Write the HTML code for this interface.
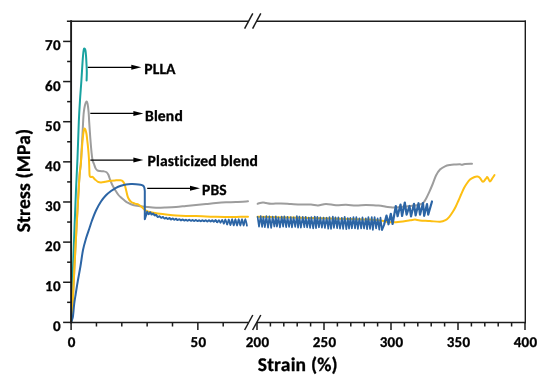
<!DOCTYPE html>
<html><head><meta charset="utf-8"><title>Stress-strain curves</title>
<style>html,body{margin:0;padding:0;background:#fff;width:550px;height:382px;overflow:hidden}svg{display:block}</style>
</head><body>
<svg width="550" height="382" viewBox="0 0 550 382">
<rect width="550" height="382" fill="#fff"/>
<g><path d="M71.2,322.3 C71.33,318.58 71.7,309.05 72,300 C72.3,290.95 72.58,280 73,268 C73.42,256 74,241 74.5,228 C75,215 75.5,201.67 76,190 C76.5,178.33 77.03,169.33 77.5,158 C77.97,146.67 78.38,131.67 78.8,122 C79.22,112.33 79.58,106.67 80,100 C80.42,93.33 80.92,87.67 81.3,82 C81.68,76.33 82.02,70.33 82.3,66 C82.58,61.67 82.75,58.77 83,56 C83.25,53.23 83.53,50.63 83.8,49.4 C84.07,48.17 84.33,48.47 84.6,48.6 C84.87,48.73 85.17,49.05 85.4,50.2 C85.63,51.35 85.82,53.2 86,55.5 C86.18,57.8 86.37,61.25 86.5,64 C86.63,66.75 86.78,69.25 86.8,72 C86.82,74.75 86.63,79.08 86.6,80.5" fill="none" stroke="#18a2a0" stroke-width="2.0" stroke-linejoin="round" stroke-linecap="round"/><path d="M71.2,322.3 C71.33,320.25 71.7,314.22 72,310 C72.3,305.78 72.58,304.33 73,297 C73.42,289.67 73.92,277.5 74.5,266 C75.08,254.5 75.85,240 76.5,228 C77.15,216 77.88,202.83 78.4,194 C78.92,185.17 79.2,180 79.6,175 C80,170 80.47,168.17 80.8,164 C81.13,159.83 81.35,154.33 81.6,150 C81.85,145.67 82.08,142 82.3,138 C82.52,134 82.67,130.17 82.9,126 C83.13,121.83 83.37,116.42 83.7,113 C84.03,109.58 84.47,107.42 84.9,105.5 C85.33,103.58 85.85,101.75 86.3,101.5 C86.75,101.25 87.22,102.25 87.6,104 C87.98,105.75 88.33,109 88.6,112 C88.87,115 88.92,117.67 89.2,122 C89.48,126.33 89.92,133 90.3,138 C90.68,143 91.13,148.33 91.5,152 C91.87,155.67 92.08,158 92.5,160 C92.92,162 93.48,162.6 94,164 C94.52,165.4 95.05,167.35 95.6,168.4 C96.15,169.45 96.57,169.87 97.3,170.3 C98.03,170.73 98.97,170.83 100,171 C101.03,171.17 102.42,171.1 103.5,171.3 C104.58,171.5 105.68,171.62 106.5,172.2 C107.32,172.78 107.82,173.58 108.4,174.8 C108.98,176.02 109.35,177.8 110,179.5 C110.65,181.2 111.38,183.17 112.3,185 C113.22,186.83 114.47,188.83 115.5,190.5 C116.53,192.17 117.58,193.83 118.5,195 C119.42,196.17 120.08,196.67 121,197.5 C121.92,198.33 123,199.2 124,200 C125,200.8 125.5,201.47 127,202.3 C128.5,203.13 130.67,204.35 133,205 C135.33,205.65 138.67,205.87 141,206.2 C143.33,206.53 144.5,206.75 147,207 C149.5,207.25 152.83,207.62 156,207.7 C159.17,207.78 162.67,207.62 166,207.5 C169.33,207.38 172.67,207.25 176,207 C179.33,206.75 182.67,206.33 186,206 C189.33,205.67 192.67,205.33 196,205 C199.33,204.67 202.67,204.33 206,204 C209.33,203.67 212.67,203.28 216,203 C219.33,202.72 222.67,202.47 226,202.3 C229.33,202.13 232.33,202.17 236,202 C239.67,201.83 246,201.42 248,201.3" fill="none" stroke="#9d9d9d" stroke-width="2.0" stroke-linejoin="round" stroke-linecap="round"/><path d="M257.6,203.8 C257.83,203.7 258.1,203.42 259,203.2 C259.9,202.98 261.83,202.53 263,202.5 C264.17,202.47 264.67,202.78 266,203 C267.33,203.22 268.5,203.73 271,203.8 C273.5,203.87 277.67,203.37 281,203.4 C284.33,203.43 287.67,203.82 291,204 C294.33,204.18 297.67,204.42 301,204.5 C304.33,204.58 308.17,204.33 311,204.5 C313.83,204.67 315.5,205.6 318,205.5 C320.5,205.4 323,203.93 326,203.9 C329,203.87 332.67,205.15 336,205.3 C339.33,205.45 342.67,204.77 346,204.8 C349.33,204.83 352.67,205.47 356,205.5 C359.33,205.53 362.67,205 366,205 C369.33,205 373.5,205.38 376,205.5 C378.5,205.62 379.33,205.48 381,205.7 C382.67,205.92 384.33,206.53 386,206.8 C387.67,207.07 389.5,207.18 391,207.3 C392.5,207.42 392.67,207.62 395,207.5 C397.33,207.38 401.67,206.92 405,206.6 C408.33,206.28 412.5,205.95 415,205.6 C417.5,205.25 418.57,205.03 420,204.5 C421.43,203.97 422.53,203.48 423.6,202.4 C424.67,201.32 425.5,199.63 426.4,198 C427.3,196.37 427.98,194.85 429,192.6 C430.02,190.35 431.33,187.35 432.5,184.5 C433.67,181.65 434.75,178 436,175.5 C437.25,173 438.5,171.03 440,169.5 C441.5,167.97 443.33,167.05 445,166.3 C446.67,165.55 448.33,165.3 450,165 C451.67,164.7 453.33,164.63 455,164.5 C456.67,164.37 458.83,164.15 460,164.2 C461.17,164.25 461.17,164.83 462,164.8 C462.83,164.77 463.33,164.17 465,164 C466.67,163.83 470.83,163.83 472,163.8" fill="none" stroke="#9d9d9d" stroke-width="2.0" stroke-linejoin="round" stroke-linecap="round"/><path d="M71.2,322.3 C71.33,320.25 71.7,314.22 72,310 C72.3,305.78 72.58,304.33 73,297 C73.42,289.67 73.92,277.5 74.5,266 C75.08,254.5 75.85,240 76.5,228 C77.15,216 77.88,202.83 78.4,194 C78.92,185.17 79.2,180 79.6,175 C80,170 80.43,168.17 80.8,164 C81.17,159.83 81.47,154.33 81.8,150 C82.13,145.67 82.48,141.17 82.8,138 C83.12,134.83 83.42,132.55 83.7,131 C83.98,129.45 84.2,128.9 84.5,128.7 C84.8,128.5 85.17,128.92 85.5,129.8 C85.83,130.68 86.22,132.3 86.5,134 C86.78,135.7 86.93,137.67 87.2,140 C87.47,142.33 87.82,145 88.1,148 C88.38,151 88.7,154.67 88.9,158 C89.1,161.33 89.18,165.12 89.3,168 C89.42,170.88 89.38,173.8 89.6,175.3 C89.82,176.8 90.12,176.73 90.6,177 C91.08,177.27 91.77,176.5 92.5,176.9 C93.23,177.3 94.08,178.58 95,179.4 C95.92,180.22 97,181.3 98,181.8 C99,182.3 99.83,182.4 101,182.4 C102.17,182.4 103.67,182.05 105,181.8 C106.33,181.55 107.33,181.13 109,180.9 C110.67,180.67 113.08,180.5 115,180.4 C116.92,180.3 119.17,180.12 120.5,180.3 C121.83,180.48 122.28,180.72 123,181.5 C123.72,182.28 124.25,183.42 124.8,185 C125.35,186.58 125.77,188.92 126.3,191 C126.83,193.08 127.22,195.7 128,197.5 C128.78,199.3 129.83,200.78 131,201.8 C132.17,202.82 133.75,203.13 135,203.6 C136.25,204.07 137.42,204.07 138.5,204.6 C139.58,205.13 140.5,205.97 141.5,206.8 C142.5,207.63 143.5,208.83 144.5,209.6 C145.5,210.37 146.42,210.97 147.5,211.4 C148.58,211.83 149.75,211.93 151,212.2 C152.25,212.47 153.5,212.73 155,213 C156.5,213.27 158.17,213.55 160,213.8 C161.83,214.05 163.33,214.22 166,214.5 C168.67,214.78 172.67,215.25 176,215.5 C179.33,215.75 182.67,215.9 186,216 C189.33,216.1 192.67,216.02 196,216.1 C199.33,216.18 202.67,216.38 206,216.5 C209.33,216.62 212.67,216.73 216,216.8 C219.33,216.87 222.67,216.88 226,216.9 C229.33,216.92 232.33,216.92 236,216.9 C239.67,216.88 246,216.82 248,216.8" fill="none" stroke="#fdbf12" stroke-width="2.0" stroke-linejoin="round" stroke-linecap="round"/><path d="M257.6,216.8 C259.67,216.85 264.6,216.97 270,217.1 C275.4,217.23 283.33,217.45 290,217.6 C296.67,217.75 303.33,217.85 310,218 C316.67,218.15 323.33,218.33 330,218.5 C336.67,218.67 343.33,218.82 350,219 C356.67,219.18 364.67,219.3 370,219.6 C375.33,219.9 379,220.4 382,220.8 C385,221.2 386.17,221.75 388,222 C389.83,222.25 391,222.35 393,222.3 C395,222.25 397.17,222.03 400,221.7 C402.83,221.37 407.5,220.65 410,220.3 C412.5,219.95 413.33,219.58 415,219.6 C416.67,219.62 417.5,220.17 420,220.4 C422.5,220.63 426.67,220.77 430,221 C433.33,221.23 437.42,221.93 440,221.8 C442.58,221.67 443.95,221.03 445.5,220.2 C447.05,219.37 448.05,218.25 449.3,216.8 C450.55,215.35 451.92,213.22 453,211.5 C454.08,209.78 454.88,208.33 455.8,206.5 C456.72,204.67 457.58,202.58 458.5,200.5 C459.42,198.42 460.42,196 461.3,194 C462.18,192 462.97,190.12 463.8,188.5 C464.63,186.88 465.27,185.78 466.3,184.3 C467.33,182.82 468.72,180.78 470,179.6 C471.28,178.42 472.75,177.7 474,177.2 C475.25,176.7 476.5,176.47 477.5,176.6 C478.5,176.73 479.08,177.13 480,178 C480.92,178.87 482,181.72 483,181.8 C484,181.88 485.25,179.27 486,178.5 C486.75,177.73 486.83,176.72 487.5,177.2 C488.17,177.68 489.17,181.27 490,181.4 C490.83,181.53 491.75,179.07 492.5,178 C493.25,176.93 494.17,175.5 494.5,175" fill="none" stroke="#fdbf12" stroke-width="2.0" stroke-linejoin="round" stroke-linecap="round"/><path d="M71.2,322.3 C71.38,321.75 72,320.05 72.3,319 C72.6,317.95 72.68,318.5 73,316 C73.32,313.5 73.75,307.67 74.2,304 C74.65,300.33 75.1,297.83 75.7,294 C76.3,290.17 77,285.67 77.8,281 C78.6,276.33 79.63,271.17 80.5,266 C81.37,260.83 82.08,254.58 83,250 C83.92,245.42 84.92,242.17 86,238.5 C87.08,234.83 88.5,231 89.5,228 C90.5,225 90.92,223.42 92,220.5 C93.08,217.58 94.5,213.67 96,210.5 C97.5,207.33 99.33,204.03 101,201.5 C102.67,198.97 104.33,197.05 106,195.3 C107.67,193.55 109.33,192.25 111,191 C112.67,189.75 114.33,188.67 116,187.8 C117.67,186.93 119.33,186.35 121,185.8 C122.67,185.25 124.33,184.78 126,184.5 C127.67,184.22 129.33,184.15 131,184.1 C132.67,184.05 134.42,184.1 136,184.2 C137.58,184.3 139.33,184.47 140.5,184.7 C141.67,184.93 142.37,185.13 143,185.6 C143.63,186.07 144,186.6 144.3,187.5 C144.6,188.4 144.72,190.42 144.8,191  L144.8,191 L144.8,219.3 L147.2,211.8  L147.2,211.8 C147.43,212.22 148.1,214.22 148.6,214.3 C149.1,214.38 149.68,212.25 150.2,212.3 C150.72,212.35 151.2,214.42 151.7,214.6 C152.2,214.78 152.7,213.27 153.2,213.4 C153.7,213.53 154.2,215.15 154.7,215.4 C155.2,215.65 155.67,214.62 156.2,214.91 C156.72,215.19 157.3,216.89 157.85,217.1 C158.4,217.31 158.95,216.04 159.5,216.17 C160.05,216.3 160.6,217.74 161.15,217.86 C161.7,217.99 162.25,216.82 162.8,216.94 C163.35,217.06 163.9,218.46 164.45,218.58 C165,218.71 165.55,217.6 166.1,217.69 C166.65,217.78 167.2,219.04 167.75,219.1 C168.3,219.17 168.85,218.02 169.4,218.08 C169.95,218.13 170.5,219.38 171.05,219.44 C171.6,219.51 172.15,218.41 172.7,218.46 C173.25,218.52 173.8,219.72 174.35,219.78 C174.9,219.84 175.45,218.8 176,218.85 C176.55,218.9 177.1,220.02 177.65,220.07 C178.2,220.12 178.75,219.1 179.3,219.14 C179.85,219.18 180.4,220.26 180.95,220.31 C181.5,220.36 182.05,219.39 182.6,219.43 C183.15,219.47 183.7,220.5 184.25,220.55 C184.8,220.6 185.35,219.68 185.9,219.71 C186.45,219.74 187,220.7 187.55,220.73 C188.1,220.76 188.65,219.85 189.2,219.87 C189.75,219.89 190.3,220.83 190.85,220.85 C191.4,220.87 191.95,219.98 192.5,220 C193.05,220.03 193.6,220.97 194.15,220.99 C194.7,221.01 195.25,220.1 195.8,220.12 C196.35,220.14 196.9,221.09 197.45,221.1 C198,221.11 198.55,220.17 199.1,220.18 C199.65,220.19 200.2,221.17 200.75,221.18 C201.3,221.19 201.85,220.22 202.4,220.24 C202.95,220.25 203.5,221.25 204.05,221.26 C204.6,221.26 205.15,220.26 205.7,220.28 C206.25,220.3 206.8,221.39 207.35,221.39 C207.9,221.4 208.45,220.27 209,220.3 C209.55,220.33 210.1,221.56 210.65,221.57 C211.2,221.57 211.75,220.3 212.3,220.33 C212.85,220.36 213.4,221.75 213.95,221.74 C214.5,221.72 215.05,220.15 215.6,220.23 C216.15,220.31 216.98,221.88 217.25,222.21" fill="none" stroke="#2c65a5" stroke-width="2.0" stroke-linejoin="round" stroke-linecap="round"/><path d="M215.6,220.23 C215.88,220.56 216.7,222.23 217.25,222.21 C217.8,222.19 218.35,220 218.9,220.1 C219.45,220.2 220,222.87 220.55,222.81 C221.1,222.76 221.65,219.62 222.2,219.78 C222.75,219.95 223.3,223.83 223.85,223.79 C224.4,223.74 224.95,219.35 225.5,219.51 C226.05,219.67 226.6,224.76 227.15,224.74 C227.7,224.71 228.25,219.3 228.8,219.38 C229.35,219.47 229.9,225.3 230.45,225.24 C231,225.19 231.55,219 232.1,219.04 C232.65,219.08 233.2,225.46 233.75,225.47 C234.3,225.47 234.85,219.04 235.4,219.05 C235.95,219.06 236.5,225.52 237.05,225.52 C237.6,225.52 238.15,219.05 238.7,219.06 C239.25,219.07 239.8,225.57 240.35,225.57 C240.9,225.57 241.45,219.07 242,219.08 C242.55,219.08 243.1,225.62 243.65,225.62 C244.2,225.62 244.75,219.08 245.3,219.09 C245.85,219.1 246.68,224.57 246.95,225.67" fill="none" stroke="#2c65a5" stroke-width="1.75" stroke-linejoin="round" stroke-linecap="round"/><path d="M257.6,216.8 L259.01,226.65 L260.68,216.11 L262.12,227 L263.38,216.8 L264.87,227.11 L266.38,216.12 L268.06,227.75 L269.41,216.33 L271.16,227.95 L272.64,216.6 L274.34,226.51 L275.78,216.42 L276.92,226.64 L278.5,217.26 L279.94,227.38 L281.67,216.54 L283.12,226.56 L284.38,216.27 L286.19,227.15 L287.51,216.87 L289.08,226.95 L290.75,217.04 L291.97,227.4 L293.61,217.32 L295.21,226.95 L296.84,216.1 L298.06,227.71 L299.43,216.68 L300.87,227.6 L302.73,216.86 L304.29,227.13 L305.7,216.94 L307.14,227.45 L308.77,217.55 L310.09,227.87 L311.38,217.21 L313.17,228.49 L314.76,216.59 L316.04,228.07 L317.36,216.92 L318.93,227.28 L320.38,217.46 L321.91,227.58 L323.55,217.67 L324.89,227.99 L326.62,217.73 L328.26,228.75 L329.49,217.03 L331.03,228.88 L332.83,216.67 L333.94,227.95 L335.47,217.28 L337.14,228.11 L338.35,217.24 L340.03,228.71 L341.83,217.75 L343.11,228.9 L344.69,216.8 L346.3,229.26 L347.79,218.07 L349.05,228.75 L350.4,217.87 L351.88,228.28 L353.45,217.12 L355.02,228.29 L356.35,217.1 L357.9,228.82 L359.36,218.27 L361.16,228.5 L362.48,217.43 L364.03,228.49 L365.77,218.46 L367.08,229.1 L368.39,217.04 L370.02,228.79 L371.76,217.14 L372.86,229.92 L374.61,217.12 L376.12,228.47 L377.61,218.46 L379.28,229.57 L380.48,217.48 L381.93,229.73" fill="none" stroke="#2c65a5" stroke-width="1.7" stroke-linejoin="round" stroke-linecap="round"/><path d="M381.93,229.73 L384.2,224.3 L386.5,215.5 L388.5,224.3 L390.8,213.8 L392.6,224 L395.8,206 L397.6,216.2 L400.5,204.5 L402.1,216 L404.8,202.5 L406.6,214.6 L409.5,206 L411,216.4 L414,203.8 L415.6,215.4 L418.5,203.2 L420,214.6 L423,203 L424.2,215.8 L427,204 L428.2,214.6 L432,201.5" fill="none" stroke="#2c65a5" stroke-width="2.2" stroke-linejoin="round" stroke-linecap="round"/></g>
<g><line x1="71.1" y1="20.3" x2="71.1" y2="323.2" stroke="#1c1c1c" stroke-width="1.9"/><line x1="70.2" y1="322.5" x2="248.3" y2="322.5" stroke="#1c1c1c" stroke-width="1.5"/><line x1="256.8" y1="322.5" x2="525.9" y2="322.5" stroke="#1c1c1c" stroke-width="1.5"/><line x1="66.9" y1="21.2" x2="248.3" y2="21.2" stroke="#1c1c1c" stroke-width="1.6"/><line x1="256.8" y1="21.2" x2="525.9" y2="21.2" stroke="#1c1c1c" stroke-width="1.4"/><line x1="525.3" y1="20.6" x2="525.3" y2="323.2" stroke="#1c1c1c" stroke-width="1.4"/><line x1="244.6" y1="28.6" x2="252.8" y2="13.4" stroke="#1c1c1c" stroke-width="1.5"/><line x1="252.6" y1="28.6" x2="260.8" y2="13.4" stroke="#1c1c1c" stroke-width="1.5"/><line x1="244.6" y1="330" x2="252.8" y2="315" stroke="#1c1c1c" stroke-width="1.5"/><line x1="252.6" y1="330" x2="260.8" y2="315" stroke="#1c1c1c" stroke-width="1.5"/><line x1="63.1" y1="322.4" x2="71.1" y2="322.4" stroke="#1c1c1c" stroke-width="1.5"/><line x1="67.1" y1="302.33" x2="71.1" y2="302.33" stroke="#1c1c1c" stroke-width="1.5"/><line x1="63.1" y1="282.26" x2="71.1" y2="282.26" stroke="#1c1c1c" stroke-width="1.5"/><line x1="67.1" y1="262.19" x2="71.1" y2="262.19" stroke="#1c1c1c" stroke-width="1.5"/><line x1="63.1" y1="242.12" x2="71.1" y2="242.12" stroke="#1c1c1c" stroke-width="1.5"/><line x1="67.1" y1="222.05" x2="71.1" y2="222.05" stroke="#1c1c1c" stroke-width="1.5"/><line x1="63.1" y1="201.98" x2="71.1" y2="201.98" stroke="#1c1c1c" stroke-width="1.5"/><line x1="67.1" y1="181.91" x2="71.1" y2="181.91" stroke="#1c1c1c" stroke-width="1.5"/><line x1="63.1" y1="161.84" x2="71.1" y2="161.84" stroke="#1c1c1c" stroke-width="1.5"/><line x1="67.1" y1="141.77" x2="71.1" y2="141.77" stroke="#1c1c1c" stroke-width="1.5"/><line x1="63.1" y1="121.7" x2="71.1" y2="121.7" stroke="#1c1c1c" stroke-width="1.5"/><line x1="67.1" y1="101.63" x2="71.1" y2="101.63" stroke="#1c1c1c" stroke-width="1.5"/><line x1="63.1" y1="81.56" x2="71.1" y2="81.56" stroke="#1c1c1c" stroke-width="1.5"/><line x1="67.1" y1="61.49" x2="71.1" y2="61.49" stroke="#1c1c1c" stroke-width="1.5"/><line x1="63.1" y1="41.42" x2="71.1" y2="41.42" stroke="#1c1c1c" stroke-width="1.5"/><line x1="71.1" y1="322.5" x2="71.1" y2="330" stroke="#1c1c1c" stroke-width="1.5"/><line x1="96.45" y1="322.5" x2="96.45" y2="326.5" stroke="#1c1c1c" stroke-width="1.5"/><line x1="121.8" y1="322.5" x2="121.8" y2="326.5" stroke="#1c1c1c" stroke-width="1.5"/><line x1="147.15" y1="322.5" x2="147.15" y2="326.5" stroke="#1c1c1c" stroke-width="1.5"/><line x1="172.5" y1="322.5" x2="172.5" y2="326.5" stroke="#1c1c1c" stroke-width="1.5"/><line x1="197.85" y1="322.5" x2="197.85" y2="330" stroke="#1c1c1c" stroke-width="1.5"/><line x1="223.2" y1="322.5" x2="223.2" y2="326.5" stroke="#1c1c1c" stroke-width="1.5"/><line x1="257" y1="322.5" x2="257" y2="330" stroke="#1c1c1c" stroke-width="1.5"/><line x1="270.4" y1="322.5" x2="270.4" y2="326.5" stroke="#1c1c1c" stroke-width="1.5"/><line x1="283.8" y1="322.5" x2="283.8" y2="326.5" stroke="#1c1c1c" stroke-width="1.5"/><line x1="297.2" y1="322.5" x2="297.2" y2="326.5" stroke="#1c1c1c" stroke-width="1.5"/><line x1="310.6" y1="322.5" x2="310.6" y2="326.5" stroke="#1c1c1c" stroke-width="1.5"/><line x1="324" y1="322.5" x2="324" y2="330" stroke="#1c1c1c" stroke-width="1.5"/><line x1="337.4" y1="322.5" x2="337.4" y2="326.5" stroke="#1c1c1c" stroke-width="1.5"/><line x1="350.8" y1="322.5" x2="350.8" y2="326.5" stroke="#1c1c1c" stroke-width="1.5"/><line x1="364.2" y1="322.5" x2="364.2" y2="326.5" stroke="#1c1c1c" stroke-width="1.5"/><line x1="377.6" y1="322.5" x2="377.6" y2="326.5" stroke="#1c1c1c" stroke-width="1.5"/><line x1="391" y1="322.5" x2="391" y2="330" stroke="#1c1c1c" stroke-width="1.5"/><line x1="404.4" y1="322.5" x2="404.4" y2="326.5" stroke="#1c1c1c" stroke-width="1.5"/><line x1="417.8" y1="322.5" x2="417.8" y2="326.5" stroke="#1c1c1c" stroke-width="1.5"/><line x1="431.2" y1="322.5" x2="431.2" y2="326.5" stroke="#1c1c1c" stroke-width="1.5"/><line x1="444.6" y1="322.5" x2="444.6" y2="326.5" stroke="#1c1c1c" stroke-width="1.5"/><line x1="458" y1="322.5" x2="458" y2="330" stroke="#1c1c1c" stroke-width="1.5"/><line x1="471.4" y1="322.5" x2="471.4" y2="326.5" stroke="#1c1c1c" stroke-width="1.5"/><line x1="484.8" y1="322.5" x2="484.8" y2="326.5" stroke="#1c1c1c" stroke-width="1.5"/><line x1="498.2" y1="322.5" x2="498.2" y2="326.5" stroke="#1c1c1c" stroke-width="1.5"/><line x1="511.6" y1="322.5" x2="511.6" y2="326.5" stroke="#1c1c1c" stroke-width="1.5"/><line x1="525" y1="322.5" x2="525" y2="330" stroke="#1c1c1c" stroke-width="1.5"/><line x1="87.8" y1="67.3" x2="132.3" y2="67.3" stroke="#000" stroke-width="1.2"/><path d="M131.3,64.8 L141.3,67.3 L131.3,69.8 Z" fill="#000"/><line x1="90.3" y1="113.4" x2="134.4" y2="113.4" stroke="#000" stroke-width="1.2"/><path d="M133.4,110.9 L143.4,113.4 L133.4,115.9 Z" fill="#000"/><line x1="90.3" y1="160.1" x2="134.4" y2="160.1" stroke="#000" stroke-width="1.2"/><path d="M133.4,157.6 L143.4,160.1 L133.4,162.6 Z" fill="#000"/><line x1="147.2" y1="188.3" x2="191" y2="188.3" stroke="#000" stroke-width="1.2"/><path d="M190,185.8 L200,188.3 L190,190.8 Z" fill="#000"/></g>
<g style="font-family:Carlito,'Liberation Sans',sans-serif;font-weight:bold;font-variant-ligatures:none;font-kerning:normal;text-rendering:geometricPrecision" fill="#000" stroke="#000" stroke-width="0.3"><text x="60.9" y="331.4" font-size="15.0" text-anchor="end" letter-spacing="0.3" >0</text><text x="60.9" y="291.26" font-size="15.0" text-anchor="end" letter-spacing="0.3" >10</text><text x="60.9" y="251.12" font-size="15.0" text-anchor="end" letter-spacing="0.3" >20</text><text x="60.9" y="210.98" font-size="15.0" text-anchor="end" letter-spacing="0.3" >30</text><text x="60.9" y="170.84" font-size="15.0" text-anchor="end" letter-spacing="0.3" >40</text><text x="60.9" y="130.7" font-size="15.0" text-anchor="end" letter-spacing="0.3" >50</text><text x="60.9" y="90.56" font-size="15.0" text-anchor="end" letter-spacing="0.3" >60</text><text x="60.9" y="50.42" font-size="15.0" text-anchor="end" letter-spacing="0.3" >70</text><text x="71.65" y="347" font-size="15.0" text-anchor="middle" letter-spacing="0.3" >0</text><text x="198.4" y="347" font-size="15.0" text-anchor="middle" letter-spacing="0.3" >50</text><text x="257.55" y="347" font-size="15.0" text-anchor="middle" letter-spacing="0.3" >200</text><text x="324.55" y="347" font-size="15.0" text-anchor="middle" letter-spacing="0.3" >250</text><text x="391.55" y="347" font-size="15.0" text-anchor="middle" letter-spacing="0.3" >300</text><text x="458.55" y="347" font-size="15.0" text-anchor="middle" letter-spacing="0.3" >350</text><text x="525.55" y="347" font-size="15.0" text-anchor="middle" letter-spacing="0.3" >400</text><text x="297.8" y="371.2" font-size="19.5" text-anchor="middle" letter-spacing="0.2" >Strain (%)</text><text x="0" y="0" font-size="19.5" text-anchor="middle" letter-spacing="0.2" transform="translate(29.7,180.5) rotate(-90)">Stress (MPa)</text><text x="144.2" y="73.9" font-size="15.6" text-anchor="start" letter-spacing="0.15" >PLLA</text><text x="145" y="120.5" font-size="15.6" text-anchor="start" letter-spacing="0.15" >Blend</text><text x="147.6" y="165.8" font-size="15.6" text-anchor="start" letter-spacing="0.15" >Plasticized blend</text><text x="202" y="194.5" font-size="15.6" text-anchor="start" letter-spacing="0.15" >PBS</text></g>
</svg>
</body></html>
